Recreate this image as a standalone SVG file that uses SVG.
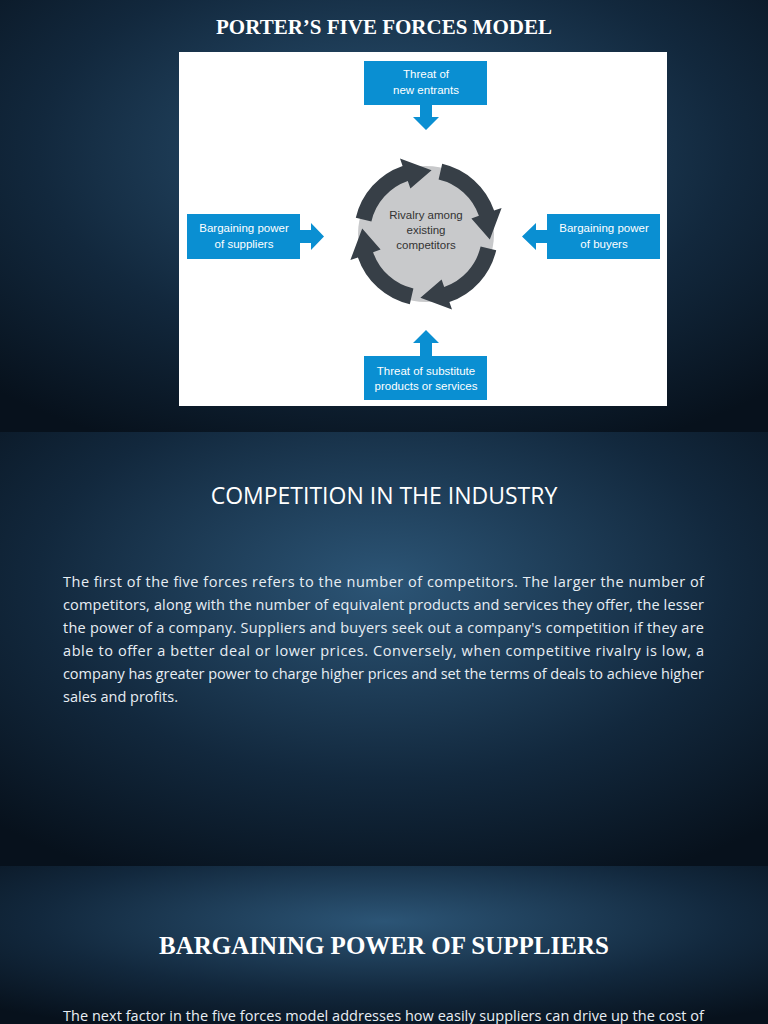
<svg xmlns="http://www.w3.org/2000/svg" width="768" height="1024" viewBox="0 0 768 1024">
<defs>
<radialGradient id="bg" cx="0.5" cy="0.35" r="0.75"><stop offset="0" stop-color="#2c5576"/><stop offset="0.6" stop-color="#12283d"/><stop offset="1" stop-color="#07111c"/></radialGradient>
<style>
.box{fill:#0a8fd2}
.bt{font-family:"Liberation Sans",Arial,sans-serif;font-size:11.5px;fill:#fff;text-anchor:middle}
.body{font-family:"Open Sans","Liberation Sans",sans-serif;font-size:14.5px;fill:#e8eef4}
.h1{font-family:"Liberation Serif","Times New Roman",serif;font-weight:bold;fill:#fff;text-anchor:middle}
.ring{fill:#373f47}
</style>
</defs>
<rect x="0" y="0" width="768" height="432" fill="url(#bg)"/>
<rect x="0" y="432" width="768" height="434" fill="url(#bg)"/>
<rect x="0" y="866" width="768" height="158" fill="url(#bg)"/>
<text class="h1" x="384" y="34" font-size="21">PORTER’S FIVE FORCES MODEL</text>
<rect x="179" y="52" width="488" height="354" fill="#fff"/>
<g id="rivalry">
<circle cx="426" cy="234" r="68" fill="#c8c9cb"/>
<g class="ring">
<path id="arc" d="M355.8,217.8 A72,72 0 0 1 402.6,165.9 L400,158.4 L431.6,170.2 L410.4,188.6 L407.8,181.1 A56,56 0 0 0 371.4,221.4 Z"/>
<use href="#arc" transform="rotate(90 426 234)"/>
<use href="#arc" transform="rotate(180 426 234)"/>
<use href="#arc" transform="rotate(270 426 234)"/>
</g>
<text class="bt" fill="#333" style="fill:#333" x="426" y="219">Rivalry among</text>
<text class="bt" style="fill:#333" x="426" y="234">existing</text>
<text class="bt" style="fill:#333" x="426" y="249">competitors</text>
</g>
<g id="new-entrants"><rect class="box" x="364" y="61" width="123" height="44"/><text class="bt" x="426" y="78">Threat of</text><text class="bt" x="426" y="94">new entrants</text></g>
<g id="suppliers"><rect class="box" x="187" y="214" width="113" height="45"/><text class="bt" x="244" y="232">Bargaining power</text><text class="bt" x="244" y="248">of suppliers</text></g>
<g id="buyers"><rect class="box" x="547" y="214" width="113" height="45"/><text class="bt" x="604" y="232">Bargaining power</text><text class="bt" x="604" y="248">of buyers</text></g>
<g id="substitutes"><rect class="box" x="364" y="356" width="123" height="44"/><text class="bt" x="426" y="375">Threat of substitute</text><text class="bt" x="426" y="390">products or services</text></g>
<g id="connectors" fill="#0a8fd2">
<path d="M420,105 H432 V117 H439 L426,130 L413,117 H420 Z"/>
<path d="M420,356 H432 V343 H439 L426,330 L413,343 H420 Z"/>
<path d="M300,230 H311 V223 L324,236.5 L311,250 V243 H300 Z"/>
<path d="M547,230 H536 V223 L522,236.5 L536,250 V243 H547 Z"/>
</g>
<text x="384" y="504" font-family="'Open Sans','Liberation Sans',sans-serif" font-size="23" fill="#fff" text-anchor="middle">COMPETITION IN THE INDUSTRY</text>
<g class="body">
<text x="63" y="587" textLength="641" lengthAdjust="spacing">The first of the five forces refers to the number of competitors. The larger the number of</text>
<text x="63" y="610" textLength="641" lengthAdjust="spacing">competitors, along with the number of equivalent products and services they offer, the lesser</text>
<text x="63" y="633" textLength="641" lengthAdjust="spacing">the power of a company. Suppliers and buyers seek out a company's competition if they are</text>
<text x="63" y="656" textLength="641" lengthAdjust="spacing">able to offer a better deal or lower prices. Conversely, when competitive rivalry is low, a</text>
<text x="63" y="679" textLength="641" lengthAdjust="spacing">company has greater power to charge higher prices and set the terms of deals to achieve higher</text>
<text x="63" y="702">sales and profits.</text>
</g>
<text class="h1" x="384" y="954" font-size="25">BARGAINING POWER OF SUPPLIERS</text>
<text class="body" x="63" y="1021" textLength="641" lengthAdjust="spacing">The next factor in the five forces model addresses how easily suppliers can drive up the cost of</text>
</svg>
